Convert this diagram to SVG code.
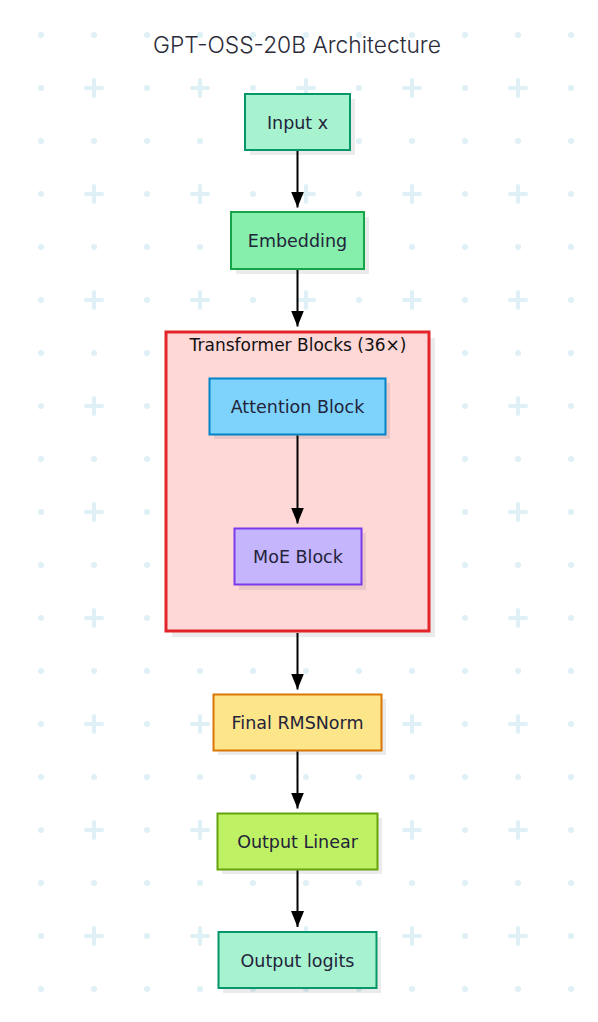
<svg xmlns="http://www.w3.org/2000/svg" width="598" height="1022" viewBox="0 0 598 1022">
  <defs>
    <pattern id="bgp" patternUnits="userSpaceOnUse" x="0" y="0" width="106" height="106">
      <circle cx="41" cy="35" r="3" fill="#dff0f6"/>
      <circle cx="94" cy="35" r="3" fill="#dff0f6"/>
      <circle cx="41" cy="88" r="3" fill="#dff0f6"/>
      <path d="M86 88 H102 M94 80 V96" stroke="#dff0f6" stroke-width="4" stroke-linecap="round"/>
    </pattern>
    <marker id="arr" markerWidth="16" markerHeight="13" refX="16" refY="6.5" orient="auto" markerUnits="userSpaceOnUse" viewBox="0 0 16 13">
      <path d="M0 0 L16 6.5 L0 13 Z" fill="#000"/>
    </marker>
  </defs>
  <style>
    .title { font-family: "Inter", "Liberation Sans", sans-serif; font-size: 22.8px; font-weight: 300; fill: #2b2b3a; }
    .lbl { font-family: "DejaVu Sans", "Noto Sans", sans-serif; font-size: 17.5px; fill: #23233a; text-anchor: middle; }
    .clbl { font-family: "DejaVu Sans", "Noto Sans", sans-serif; font-size: 17px; fill: #111; text-anchor: middle; }
    .shadow { fill: #000; fill-opacity: 0.08; }
    .node { stroke-width: 2; }
    .edge { stroke: #000; stroke-width: 2; fill: none; marker-end: url(#arr); }
  </style>
  <rect width="598" height="1022" fill="#ffffff"/>
  <rect width="598" height="1022" fill="url(#bgp)"/>

  <text class="title" x="297" y="53" text-anchor="middle">GPT-OSS-20B Architecture</text>

  <g id="cluster-transformer">
    <rect class="shadow" x="172" y="338" width="263" height="299"/>
    <rect x="166" y="332" width="263" height="299" fill="#fed7d7" stroke="#e2242b" stroke-width="3"/>
    <text class="clbl" x="298" y="351">Transformer Blocks (36×)</text>
  </g>

  <g id="node-input">
    <rect class="shadow" x="250" y="99" width="105" height="56"/>
    <rect class="node" x="245" y="94" width="105" height="56" fill="#a7f3d0" stroke="#059669"/>
    <text class="lbl" x="297.5" y="128.5">Input x</text>
  </g>

  <g id="node-embedding">
    <rect class="shadow" x="236" y="217" width="133" height="57"/>
    <rect class="node" x="231" y="212" width="133" height="57" fill="#86efac" stroke="#16a34a"/>
    <text class="lbl" x="297.5" y="247">Embedding</text>
  </g>

  <g id="node-attention">
    <rect class="shadow" x="214" y="383" width="176" height="56"/>
    <rect class="node" x="209.5" y="378.5" width="176" height="56" fill="#7dd3fc" stroke="#0284c7"/>
    <text class="lbl" x="297.5" y="413">Attention Block</text>
  </g>

  <g id="node-moe">
    <rect class="shadow" x="239" y="533" width="127" height="57"/>
    <rect class="node" x="234.5" y="528.5" width="127" height="56" fill="#c4b5fd" stroke="#7c3aed"/>
    <text class="lbl" x="298" y="563">MoE Block</text>
  </g>

  <g id="node-rmsnorm">
    <rect class="shadow" x="218" y="699" width="168" height="56"/>
    <rect class="node" x="213.5" y="694.5" width="168" height="56" fill="#fde68a" stroke="#d97706"/>
    <text class="lbl" x="297.5" y="729">Final RMSNorm</text>
  </g>

  <g id="node-linear">
    <rect class="shadow" x="222" y="818" width="160" height="56"/>
    <rect class="node" x="217.5" y="813.5" width="160" height="56" fill="#bef264" stroke="#65a30d"/>
    <text class="lbl" x="297.5" y="848">Output Linear</text>
  </g>

  <g id="node-logits">
    <rect class="shadow" x="223" y="937" width="158" height="56"/>
    <rect class="node" x="218.5" y="932" width="158" height="56" fill="#a7f3d0" stroke="#059669"/>
    <text class="lbl" x="297.5" y="966.5">Output logits</text>
  </g>

  <g id="connectors">
    <line class="edge" x1="297.5" y1="151" x2="297.5" y2="207.5"/>
    <line class="edge" x1="297.5" y1="270" x2="297.5" y2="326.5"/>
    <line class="edge" x1="297.5" y1="435.5" x2="297.5" y2="523.5"/>
    <line class="edge" x1="297.5" y1="633" x2="297.5" y2="689.5"/>
    <line class="edge" x1="297.5" y1="751.5" x2="297.5" y2="808.5"/>
    <line class="edge" x1="297.5" y1="870.5" x2="297.5" y2="927"/>
  </g>
</svg>
